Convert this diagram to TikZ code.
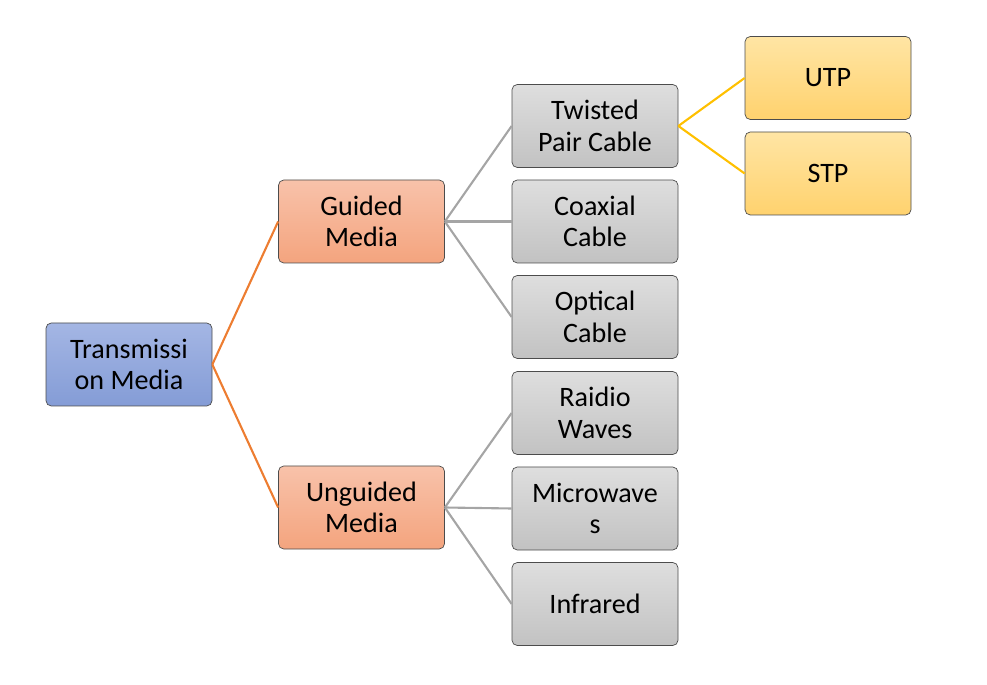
\documentclass[tikz,border=0pt]{standalone}
\usepackage{fontspec}
\setmainfont{Carlito}
\definecolor{blueT}{RGB}{164,182,228}
\definecolor{blueB}{RGB}{132,156,214}
\definecolor{orgT}{RGB}{248,194,170}
\definecolor{orgB}{RGB}{244,164,126}
\definecolor{grayT}{RGB}{222,222,222}
\definecolor{grayB}{RGB}{194,194,194}
\definecolor{yelT}{RGB}{255,229,164}
\definecolor{yelB}{RGB}{255,210,110}
\definecolor{lnorange}{RGB}{237,125,49}
\definecolor{lngray}{RGB}{165,165,165}
\definecolor{lnyellow}{RGB}{255,192,0}
\tikzset{
  box/.style={draw=black!70, rounded corners=3pt, minimum width=166*0.02cm, minimum height=83*0.02cm,
    align=center, font=\fontsize{16}{18}\selectfont, inner sep=1pt},
  bluebox/.style={box, top color=blueT, bottom color=blueB},
  orgbox/.style={box, top color=orgT, bottom color=orgB},
  graybox/.style={box, top color=grayT, bottom color=grayB},
  yelbox/.style={box, top color=yelT, bottom color=yelB},
  link/.style={line width=1.2pt}
}
\begin{document}
\begin{tikzpicture}[x=0.02cm,y=-0.02cm]
\useasboundingbox (0,0) rectangle (987,685);
\node[bluebox] (tm) at (129,364.5) {Transmissi\\on Media};
\node[orgbox] (gm) at (361.5,221.5) {Guided\\Media};
\node[orgbox] (um) at (361.5,507.5) {Unguided\\Media};
\node[graybox] (tp) at (595,126) {Twisted\\Pair Cable};
\node[graybox] (cc) at (595,221.5) {Coaxial\\Cable};
\node[graybox] (oc) at (595,317) {Optical\\Cable};
\node[graybox] (rw) at (595,413) {Raidio\\Waves};
\node[graybox] (mw) at (595,508.5) {Microwave\\s};
\node[graybox] (ir) at (595,604) {Infrared};
\node[yelbox] (utp) at (828,78) {UTP};
\node[yelbox] (stp) at (828,173.5) {STP};
\draw[link, lnorange] (tm.east) -- (gm.west);
\draw[link, lnorange] (tm.east) -- (um.west);
\foreach \c in {tp,cc,oc} \draw[link, lngray] (gm.east) -- (\c.west);
\foreach \c in {rw,mw,ir} \draw[link, lngray] (um.east) -- (\c.west);
\draw[link, lnyellow] (tp.east) -- (utp.west);
\draw[link, lnyellow] (tp.east) -- (stp.west);
\end{tikzpicture}
\end{document}
